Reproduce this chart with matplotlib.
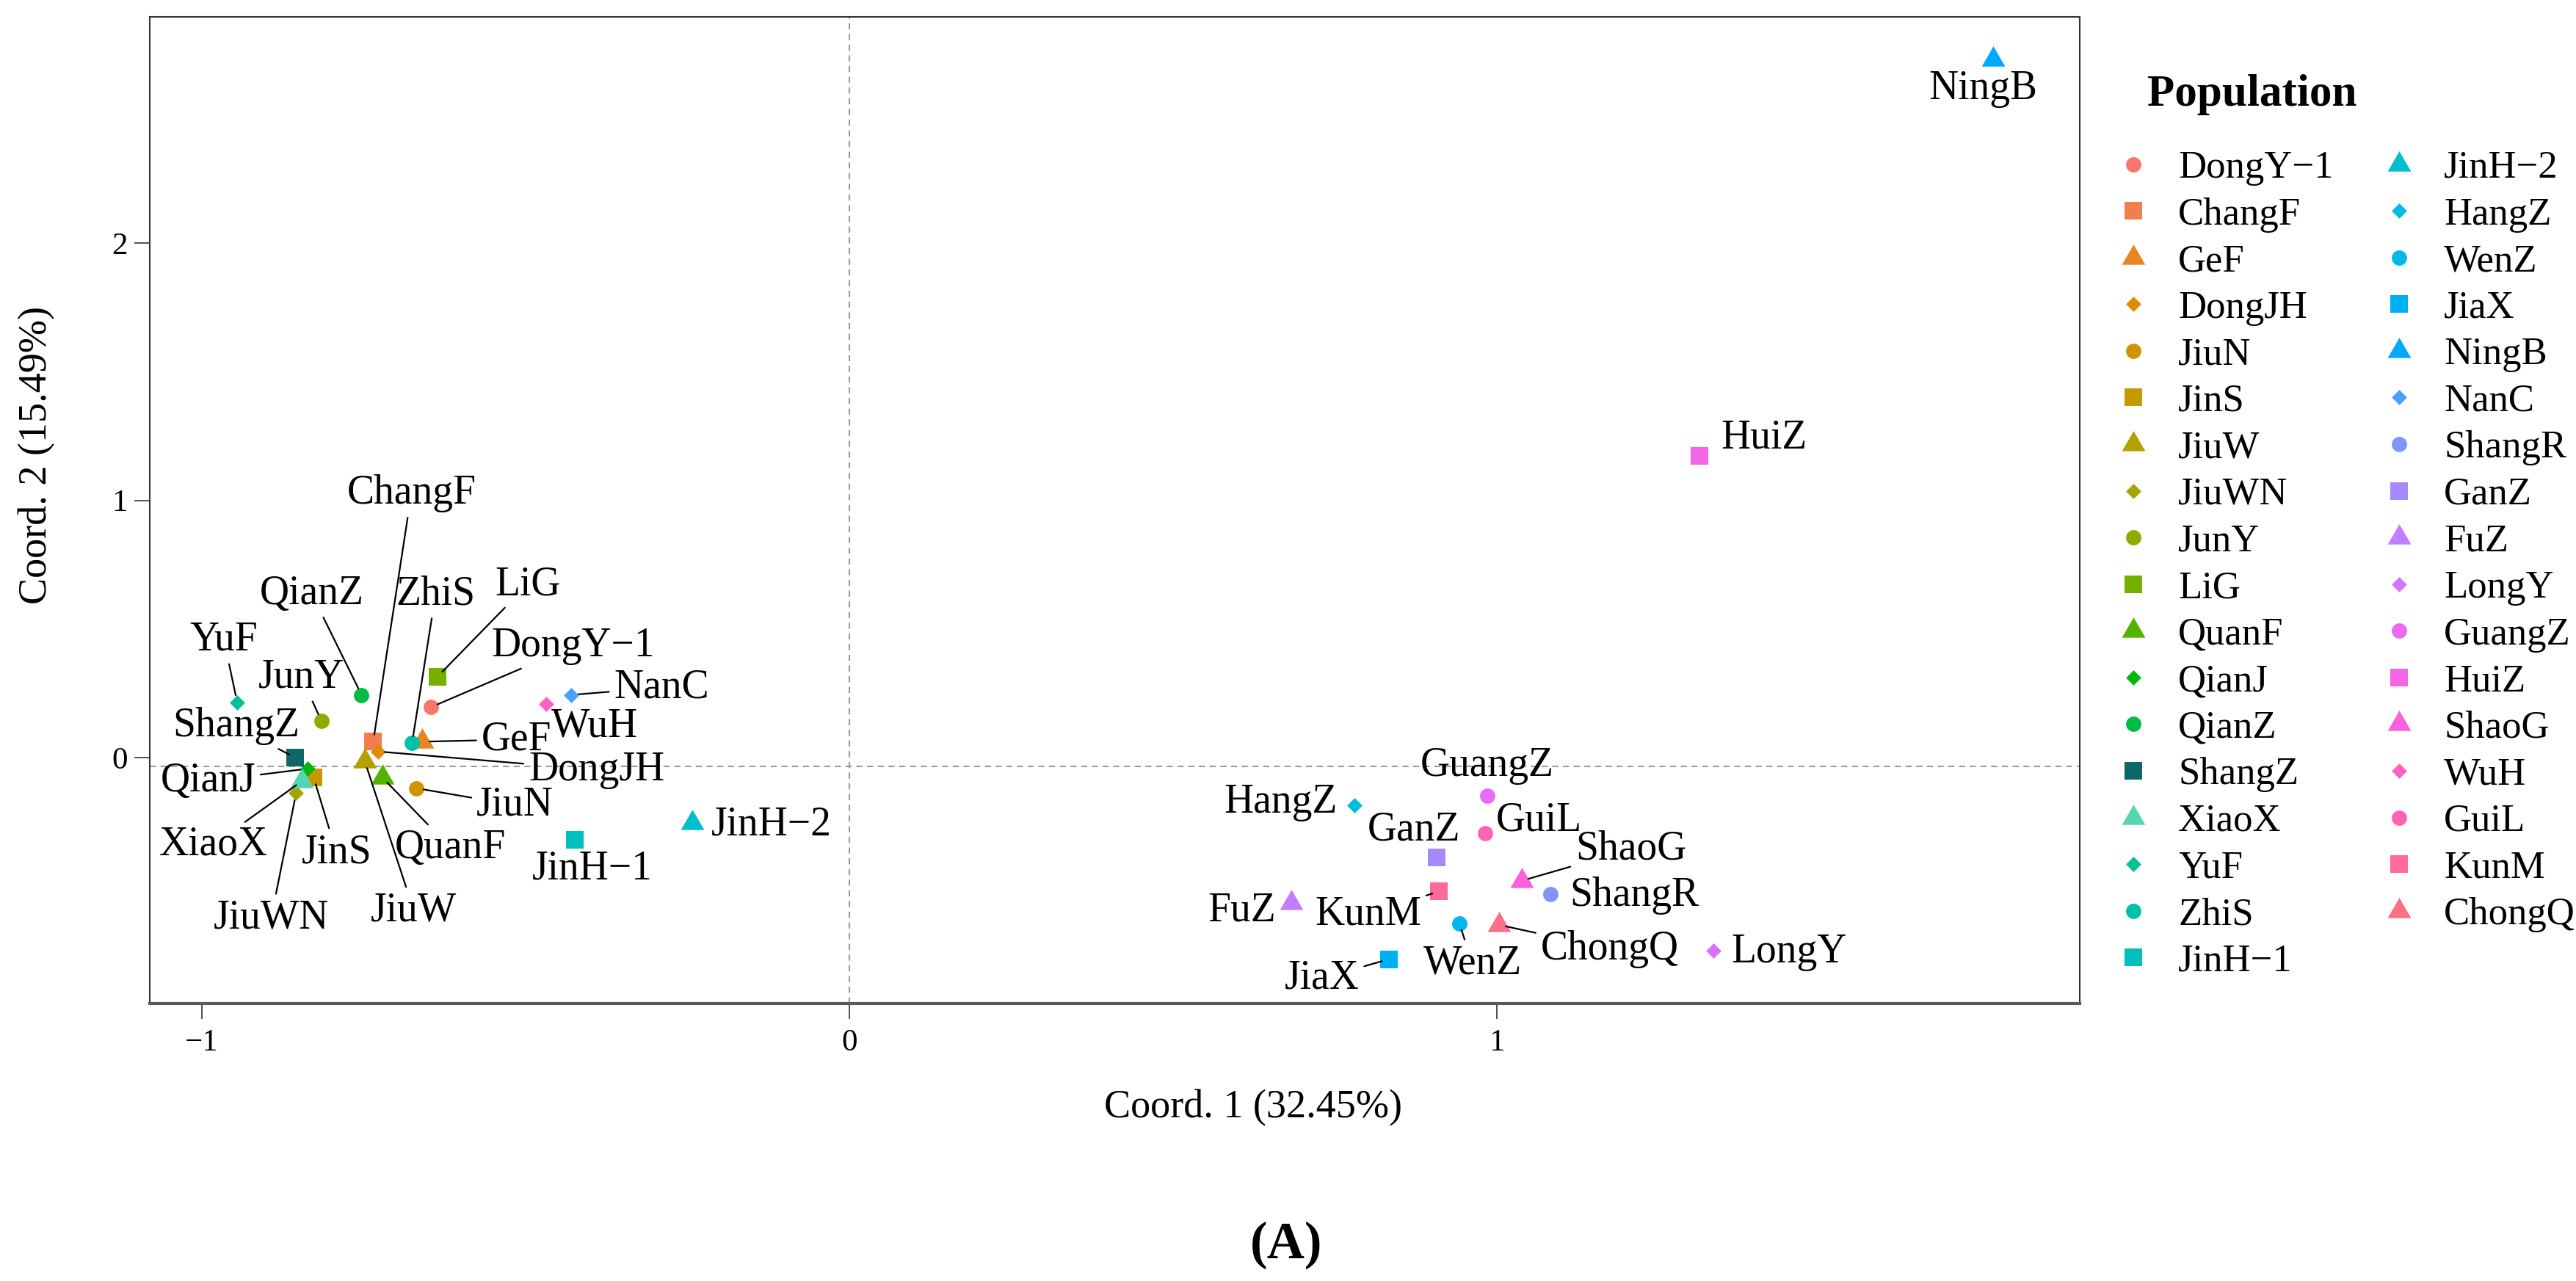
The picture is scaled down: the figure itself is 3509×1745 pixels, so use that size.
import numpy as np
import matplotlib
matplotlib.use("Agg")
import matplotlib.pyplot as plt
from matplotlib.lines import Line2D
from matplotlib.path import Path

plt.rcParams['font.family'] = ['Liberation Serif', 'DejaVu Serif']

# PCoA coordinates
populations = ["DongY−1", "ChangF", "GeF", "DongJH", "JiuN", "JinS", "JiuW", "JiuWN",
               "JunY", "LiG", "QuanF", "QianJ", "QianZ", "ShangZ", "XiaoX", "YuF",
               "ZhiS", "JinH−1", "JinH−2", "HangZ", "WenZ", "JiaX", "NingB", "NanC",
               "ShangR", "GanZ", "FuZ", "LongY", "GuangZ", "HuiZ", "ShaoG", "WuH",
               "GuiL", "KunM", "ChongQ"]
coord1 = [-0.646, -0.735, -0.659, -0.728, -0.668, -0.827, -0.748, -0.854,
          -0.815, -0.636, -0.721, -0.836, -0.753, -0.855, -0.845, -0.945,
          -0.675, -0.424, -0.242, 0.780, 0.942, 0.833, 1.766, -0.429,
          1.083, 0.907, 0.683, 1.334, 0.985, 1.313, 1.038, -0.468,
          0.982, 0.911, 1.003]
coord2 = [0.196, 0.062, 0.062, 0.024, -0.119, -0.077, -0.014, -0.138,
          0.143, 0.314, -0.077, -0.043, 0.244, -0.001, -0.091, 0.215,
          0.056, -0.320, -0.253, -0.185, -0.644, -0.784, 2.715, 0.244,
          -0.532, -0.389, -0.565, -0.750, -0.149, 1.174, -0.479, 0.209,
          -0.294, -0.520, -0.650]
ref_x = 0.0
ref_y = -0.035

# label placement (pixel offsets from the point, repel-style)
label_offsets = {
    "DongY−1": (194, 83), "ChangF": (52, 338), "GeF": (128, 3), "DongJH": (298, -25),
    "JiuN": (134, -23), "JinS": (31, -102), "JiuW": (67, -204), "JiuWN": (-34, -170),
    "JunY": (-27, 59), "LiG": (123, 126), "QuanF": (93, -96), "QianJ": (-136, -17),
    "QianZ": (-68, 138), "ShangZ": (-81, 43), "XiaoX": (-121, -87), "YuF": (-18, 85),
    "ZhiS": (32, 203), "JinH−1": (24, -39), "JinH−2": (108, -3), "HangZ": (-100, 4),
    "WenZ": (18, -55), "JiaX": (-91, -26), "NingB": (-13, -40), "NanC": (123, 10),
    "ShangR": (114, -2), "GanZ": (-31, 38), "FuZ": (-68, -10), "LongY": (103, -2),
    "GuangZ": (0, 41), "HuiZ": (88, 24), "ShaoG": (149, 43), "WuH": (66, -31),
    "GuiL": (73, 18), "KunM": (-97, -31), "ChongQ": (151, -33),
}
with_segment = {"DongY−1", "ChangF", "GeF", "DongJH", "JiuN", "JinS", "JiuW", "JiuWN",
                "JunY", "LiG", "QuanF", "QianJ", "QianZ", "ShangZ", "XiaoX", "YuF",
                "ZhiS", "NanC", "ShaoG", "KunM", "WenZ", "ChongQ", "JiaX"}


def hue_pal(n, c=100.0, l=65.0):
    # ggplot2 default discrete palette (polar LUV -> sRGB)
    h = np.deg2rad(np.linspace(15, 375 - 360 / n, n))
    U, V = c * np.cos(h), c * np.sin(h)
    Y = 100 * ((l + 16) / 116) ** 3
    u = U / (13 * l) + 0.1978398
    v = V / (13 * l) + 0.4683363
    X = 9 * Y * u / (4 * v)
    Z = -X / 3 - 5 * Y + 3 * Y / v
    rgb = np.array([(3.240479 * X - 1.537150 * Y - 0.498535 * Z) / 100,
                    (-0.969256 * X + 1.875992 * Y + 0.041556 * Z) / 100,
                    (0.055648 * X - 0.204043 * Y + 1.057311 * Z) / 100]).T
    rgb = np.where(rgb > 0.00304, 1.055 * np.abs(rgb) ** (1 / 2.4) - 0.055, 12.92 * rgb)
    return np.clip(rgb, 0, 1)


colors = [tuple(c) for c in hue_pal(len(populations))]
colors[populations.index("ShangZ")] = "#0E6767"
colors[populations.index("XiaoX")] = "#55D6B1"

tri = Path([(0, 1.0), (-0.866, -0.5), (0.866, -0.5), (0, 1.0)],
           [Path.MOVETO, Path.LINETO, Path.LINETO, Path.CLOSEPOLY])
dia = Path([(0, 1), (1, 0), (0, -1), (-1, 0), (0, 1)],
           [Path.MOVETO, Path.LINETO, Path.LINETO, Path.LINETO, Path.CLOSEPOLY])
shapes = [("o", 15), ("s", 17), (tri, 26.5), (dia, 15)]

fig = plt.figure(figsize=(35.09, 17.45), dpi=100)
ax = fig.add_axes([204 / 3509, 1 - 1367 / 1745, (2833 - 204) / 3509, (1367 - 23) / 1745])

ax.axvline(ref_x, color="#9a9a9a", lw=1.5, ls=(0, (4, 3)), zorder=1)
ax.axhline(ref_y, color="#9a9a9a", lw=1.5, ls=(0, (4, 3)), zorder=1)

handles = []
for i, name in enumerate(populations):
    m, ms = shapes[i % 4]
    ax.plot(coord1[i], coord2[i], marker=m, ms=ms, color=colors[i], mew=0, ls="none", zorder=3)
    handles.append(Line2D([], [], marker=m, ms=ms, color=colors[i], mew=0, ls="none", label=name))

for i, name in enumerate(populations):
    dx, dy = label_offsets[name]
    arrow = None
    if name in with_segment:
        arrow = dict(arrowstyle="-", color="black", lw=1.6, shrinkA=3, shrinkB=7)
    ax.annotate(name, (coord1[i], coord2[i]), xytext=(dx, dy), textcoords="offset pixels",
                ha="center", va="center", fontsize=40, color="black",
                arrowprops=arrow, zorder=4)

ax.set_xlim(-1.080, 1.900)
ax.set_ylim(-0.956, 2.880)
ax.set_xticks([-1, 0, 1])
ax.set_yticks([0, 1, 2])
ax.tick_params(axis="both", direction="out", length=15, width=1.2, labelsize=31, color="#333333")
ax.tick_params(axis="x", pad=10)
ax.tick_params(axis="y", pad=7)
for s in ["left", "top", "right"]:
    ax.spines[s].set_color("#333333")
    ax.spines[s].set_linewidth(1.5)
ax.spines["bottom"].set_color("#5a5a5a")
ax.spines["bottom"].set_linewidth(3)

fig.text(1707 / 3509, 1 - 1509 / 1745, "Coord. 1 (32.45%)", ha="center", va="center", fontsize=39)
fig.text(50 / 3509, 1 - 620 / 1745, "Coord. 2 (15.49%)", ha="center", va="center",
         rotation=90, fontsize=39)
fig.text(0.4993, 1 - 1696 / 1745, "(A)", ha="center", va="center", fontsize=51, fontweight="bold")

# legend: title as separate text, entries in two columns
fig.text(2925 / 3509, 1 - 129 / 1745, "Population", ha="left", va="center",
         fontsize=44, fontweight="bold")
leg = fig.legend(handles=handles, loc="upper left", bbox_to_anchor=(2880 / 3509, 1 - 205 / 1745),
                 ncol=2, frameon=False, fontsize=38,
                 handlelength=1.0, handletextpad=0.65, columnspacing=1.2, labelspacing=0.295,
                 borderpad=0, borderaxespad=0)

fig.savefig("out.png", dpi=100)
